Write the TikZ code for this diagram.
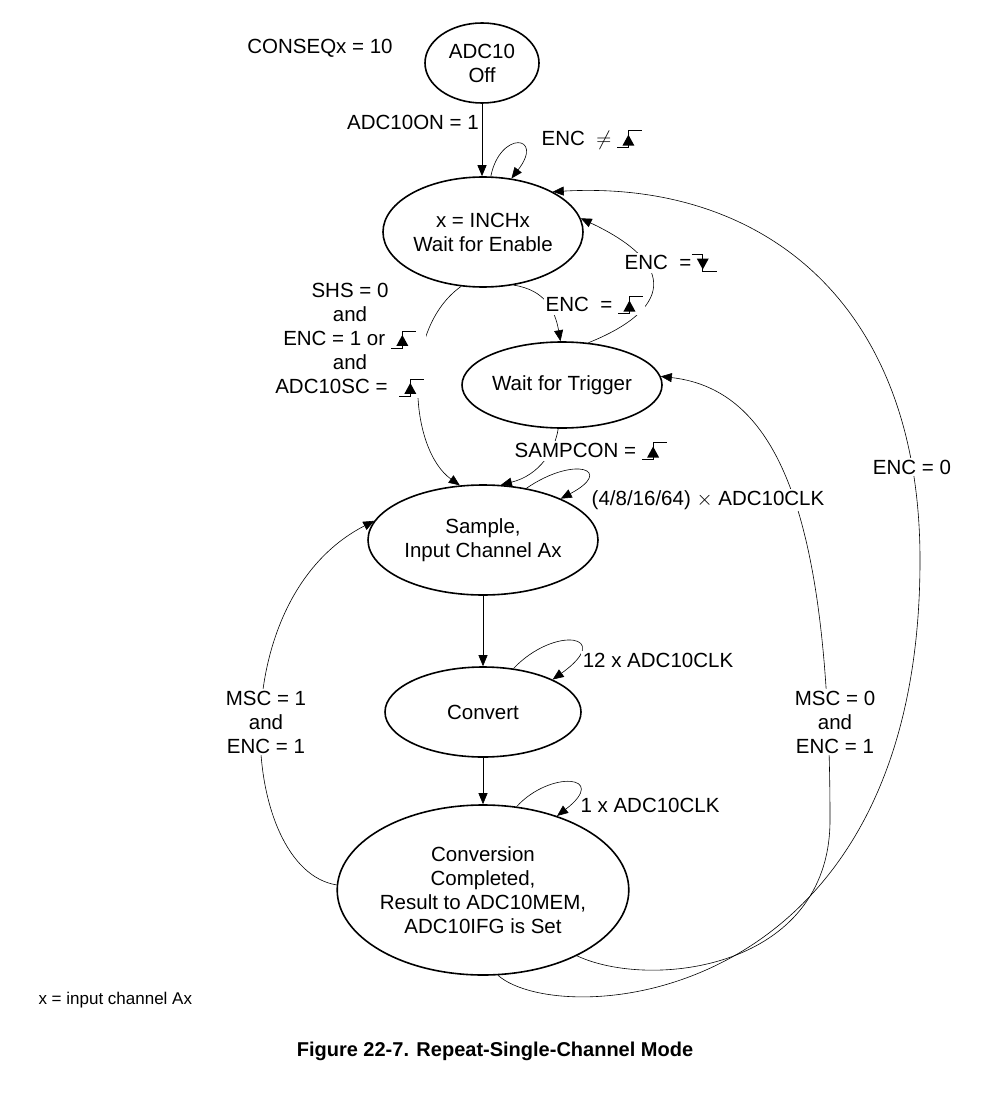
\documentclass[tikz,border=0pt]{standalone}
\usepackage{fontspec}
\setmainfont{Liberation Sans}
\usetikzlibrary{shapes.geometric,arrows.meta}
\newcommand\edgeup{\tikz[baseline=0pt,x=1pt,y=1pt]{\draw[line width=0.8pt] (0,-2)--(11,-2)--(11,15)--(25,15);\fill (11,11)--(5,0)--(17,0)--cycle;}}
\newcommand\edgedn{\tikz[baseline=0pt,x=1pt,y=1pt]{\draw[line width=0.8pt] (0,15)--(11,15)--(11,-2)--(25,-2);\fill (11,0)--(5,11)--(17,11)--cycle;}}
\begin{document}
\begin{tikzpicture}[x=1pt,y=-1pt,font=\fontsize{20.5}{24}\selectfont,
 st/.style={ellipse,draw,line width=1.6pt,inner sep=0pt,align=center},
 ar/.style={-{Triangle[length=11pt,width=9pt]},line width=0.6pt},
 lb/.style={fill=white,inner sep=1.5pt,align=center}]
\useasboundingbox (0,0) rectangle (988,1094);
\node[st,minimum width=114,minimum height=80] (off) at (482,63) {ADC10\\Off};
\node[st,minimum width=200,minimum height=110] (wfe) at (483,232) {x = INCHx\\Wait for Enable};
\node[st,minimum width=200,minimum height=86] (wft) at (562,385) {Wait for Trigger};
\node[st,minimum width=230,minimum height=110] (smp) at (483,540) {Sample,\\Input Channel Ax};
\node[st,minimum width=196,minimum height=90] (cnv) at (483,712) {Convert};
\node[st,minimum width=272,minimum height=170] (cc) at (483,890) {Conversion\\Completed,\\Result to ADC10MEM,\\ADC10IFG is Set};
% edges
\draw[ar,line width=0.9pt] (off) -- (off.south |- wfe.north);
\draw[ar] (wfe.82) .. controls (500,130) and (545,135) .. (wfe.62);
\draw[ar] (cc.-80) .. controls (560,1030) and (920,1010) .. (920,560) .. controls (920,300) and (760,180) .. (wfe.30);
\draw[ar] (wft.58) .. controls (670,310) and (680,265) .. (wfe.8);
\draw[ar] (wfe.-60) .. controls (545,290) and (555,310) .. (wft.92);
\draw[ar] (wfe.-112) .. controls (400,330) and (410,450) .. (smp.113);
\draw[ar] (wft.-95) .. controls (555,450) and (540,475) .. (smp.72);
\draw[ar] (smp.50) .. controls (575,455) and (615,470) .. (smp.28);
\draw[ar] (smp) -- (cnv);
\draw[ar] (cnv.55) .. controls (555,625) and (615,635) .. (cnv.25);
\draw[ar] (cnv) -- (cc);
\draw[ar] (cc.68) .. controls (550,770) and (610,775) .. (cc.45);
\draw[ar] (cc.178) .. controls (240,870) and (220,600) .. (smp.170);
\draw[ar] (cc.-35) .. controls (650,990) and (830,970) .. (830,820) .. controls (830,520) and (780,390) .. (wft.5);
% labels
\node[lb] at (320,48) {CONSEQx = 10};
\node[lb] at (413,122) {ADC10ON = 1};
\node[lb,anchor=west] at (540,140) {ENC \ $\neq$ \edgeup};
\node[lb] at (912,467) {ENC = 0};
\node[lb,anchor=west] at (623,263) {ENC \ =\edgedn};
\node[lb,anchor=west] at (544,305) {ENC \ = \edgeup};
\node[lb] at (350,340) {SHS = 0\\and\\ENC = 1 or \edgeup\\and\\ADC10SC = \ \edgeup};
\node[lb,anchor=west] at (513,451) {SAMPCON = \edgeup};
\node[lb] at (708,500) {(4/8/16/64) $\times$ ADC10CLK};
\node[lb] at (658,660) {12 x ADC10CLK};
\node[lb] at (650,805) {1 x ADC10CLK};
\node[lb] at (266,722) {MSC = 1\\and\\ENC = 1};
\node[lb] at (835,722) {MSC = 0\\and\\ENC = 1};
\node[anchor=west,font=\fontsize{17}{20}\selectfont] at (35,1000) {x = input channel Ax};
\node[font=\fontsize{20}{24}\selectfont\bfseries] at (495,1051) {Figure 22-7. Repeat-Single-Channel Mode};
\end{tikzpicture}
\end{document}
